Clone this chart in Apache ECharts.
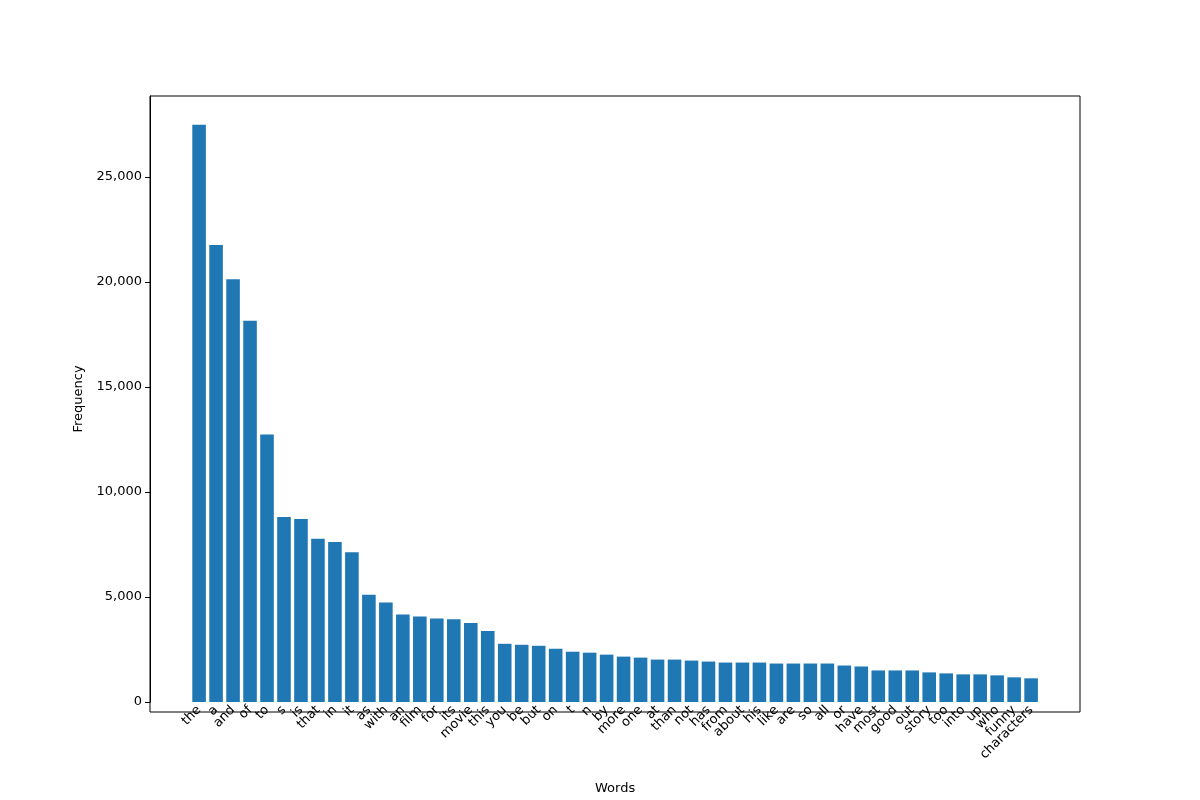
<!DOCTYPE html>
<html>
<head>
<meta charset="utf-8">
<script src="https://cdn.jsdelivr.net/npm/echarts@6/dist/echarts.min.js"></script>
<style>html,body{margin:0;padding:0;background:#fff}#main{width:1200px;height:800px}</style>
</head>
<body>
<div id="main"></div>
<script>
var words = ['the', 'a', 'and', 'of', 'to', 's', 'is', 'that', 'in', 'it', 'as', 'with', 'an', 'film', 'for', 'its', 'movie', 'this', 'you', 'be', 'but', 'on', 't', 'n', 'by', 'more', 'one', 'at', 'than', 'not', 'has', 'from', 'about', 'his', 'like', 'are', 'so', 'all', 'or', 'have', 'most', 'good', 'out', 'story', 'too', 'into', 'up', 'who', 'funny', 'characters'];
var frequency = [27472, 21756, 20128, 18149, 12728, 8806, 8714, 7770, 7622, 7123, 5106, 4736, 4163, 4070, 3978, 3940, 3756, 3380, 2770, 2723, 2676, 2535, 2394, 2348, 2254, 2160, 2113, 2019, 2019, 1972, 1925, 1878, 1878, 1878, 1831, 1831, 1831, 1831, 1737, 1690, 1502, 1502, 1502, 1409, 1362, 1315, 1315, 1268, 1174, 1127];

var chartDom = document.getElementById('main');
var myChart = echarts.init(chartDom);
var font = 'DejaVu Sans';
var option;

option = {
  animation: false,
  textStyle: { fontFamily: font },
  grid: { left: 190.6, right: 160.4, top: 96, bottom: 88, containLabel: false },
  graphic: [{
    type: 'rect', shape: { x: 150, y: 96, width: 930, height: 616 },
    style: { fill: 'none', stroke: '#000', lineWidth: 1 }, z: 10
  }],
  xAxis: {
    type: 'category',
    data: words,
    name: 'Words',
    nameLocation: 'middle',
    nameGap: 80,
    nameTextStyle: { fontSize: 13, color: '#000' },
    axisLine: { show: false },
    axisTick: { alignWithLabel: true, length: 5, lineStyle: { color: '#000' } },
    axisLabel: { rotate: 45, interval: 0, fontSize: 13, color: '#000', margin: 6 }
  },
  yAxis: {
    type: 'value',
    min: 0,
    max: 28846,
    interval: 5000,
    offset: 40.6,
    name: 'Frequency',
    nameLocation: 'middle',
    nameGap: 64,
    nameTextStyle: { fontSize: 13, color: '#000' },
    splitLine: { show: false },
    axisLine: { show: true, lineStyle: { color: '#000' } },
    axisTick: { show: true, length: 5, lineStyle: { color: '#000' } },
    axisLabel: { fontSize: 13, color: '#000', showMaxLabel: false }
  },
  series: [{
    type: 'bar',
    data: frequency,
    barWidth: '80%',
    itemStyle: { color: '#1f77b4' }
  }]
};

option && myChart.setOption(option);
</script>
</body>
</html>
